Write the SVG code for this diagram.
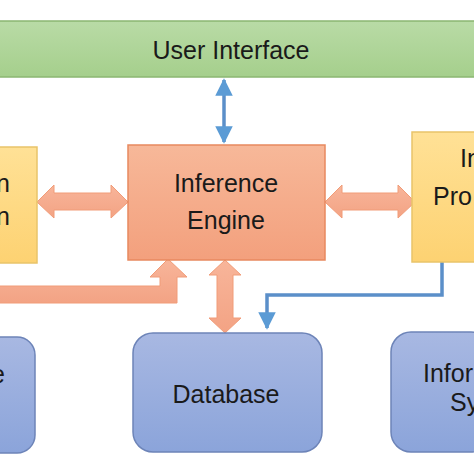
<svg xmlns="http://www.w3.org/2000/svg" width="474" height="474" viewBox="0 0 474 474">
<defs>
<linearGradient id="gGreen" x1="0" y1="0" x2="0" y2="1"><stop offset="0" stop-color="#b9dba6"/><stop offset="1" stop-color="#a5cf8c"/></linearGradient>
<linearGradient id="gOrange" x1="0" y1="0" x2="0" y2="1"><stop offset="0" stop-color="#f7b899"/><stop offset="1" stop-color="#f3a07d"/></linearGradient>
<linearGradient id="gYellow" x1="0" y1="0" x2="0" y2="1"><stop offset="0" stop-color="#ffe196"/><stop offset="1" stop-color="#fdd272"/></linearGradient>
<linearGradient id="gBlue" x1="0" y1="0" x2="0" y2="1"><stop offset="0" stop-color="#a8b8e2"/><stop offset="1" stop-color="#8ba4da"/></linearGradient>
<linearGradient id="gArrow" x1="0" y1="0" x2="0" y2="1"><stop offset="0" stop-color="#f8b59a"/><stop offset="1" stop-color="#f3a384"/></linearGradient>
<marker id="blueHead" viewBox="0 0 10 10" refX="9" refY="5" markerWidth="5" markerHeight="5" orient="auto-start-reverse" markerUnits="strokeWidth"><path d="M0,0 L10,5 L0,10 z" fill="#5b9bd5"/></marker>
</defs>
<style>
text{font-family:"Liberation Sans",Arial,sans-serif;font-size:25px;fill:#1a1a1a}
.green{fill:url(#gGreen);stroke:#8bb772;stroke-width:1.5}
.orange{fill:url(#gOrange);stroke:#e8895f;stroke-width:1.5}
.yellow{fill:url(#gYellow);stroke:#e9c46a;stroke-width:1.5}
.blue{fill:url(#gBlue);stroke:#6d84b8;stroke-width:1.5}
.fat{fill:url(#gArrow);stroke:#f19c78;stroke-width:1}
.thin{fill:none;stroke:#5b8fc9;stroke-width:3.5}
</style>
<rect width="474" height="474" fill="#ffffff"/>

<g id="connectors">
  <line class="thin" x1="224" y1="80" x2="224" y2="142" marker-start="url(#blueHead)" marker-end="url(#blueHead)"/>
  <polyline class="thin" points="442,262 442,295 267,295 267,328" marker-end="url(#blueHead)"/>
  <path class="fat" d="M37,202 L54,185 L54,193 L111,193 L111,185 L128,202 L111,218 L111,210 L54,210 L54,218 Z"/>
  <path class="fat" d="M325,202 L342,185 L342,193 L398,193 L398,185 L415,202 L398,218 L398,210 L342,210 L342,218 Z"/>
  <path class="fat" d="M225,260 L241,275 L233,275 L233,318 L241,318 L225,333 L209,318 L217,318 L217,275 L209,275 Z"/>
  <path class="fat" d="M-2,286 L160,286 L160,277 L150,277 L168,259 L187,277 L177,277 L177,303 L-2,303 Z"/>
</g>

<g id="user-interface">
  <rect class="green" x="-2" y="21" width="478" height="56"/>
  <text x="231" y="59" text-anchor="middle">User Interface</text>
</g>

<g id="inference-engine">
  <rect class="orange" x="128" y="145" width="197" height="115"/>
  <text x="226" y="192" text-anchor="middle">Inference</text>
  <text x="226" y="229" text-anchor="middle">Engine</text>
</g>

<g id="left-yellow">
  <rect class="yellow" x="-2" y="147" width="39" height="116"/>
  <text x="-4" y="192">n</text>
  <text x="-4" y="225">n</text>
</g>

<g id="right-yellow">
  <rect class="yellow" x="412" y="132" width="66" height="130"/>
  <text x="460" y="167">In</text>
  <text x="433" y="205">Pro</text>
</g>

<g id="database">
  <rect class="blue" x="133" y="333" width="189" height="119" rx="20"/>
  <text x="226" y="403" text-anchor="middle">Database</text>
</g>

<g id="left-blue">
  <rect class="blue" x="-20" y="337" width="55" height="116" rx="18"/>
  <text x="-9" y="383">e</text>
</g>

<g id="right-blue">
  <rect class="blue" x="391" y="332" width="100" height="120" rx="20"/>
  <text x="423" y="382">Infor</text>
  <text x="450" y="411">Sy</text>
</g>
</svg>
